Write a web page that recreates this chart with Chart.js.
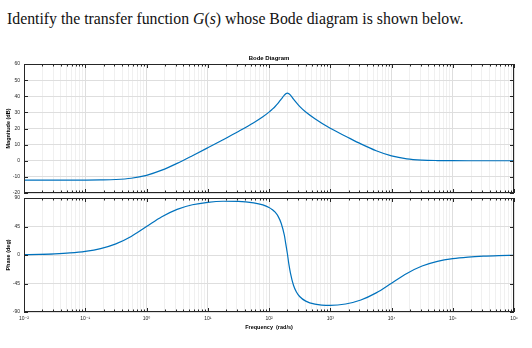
<!DOCTYPE html>
<html>
<head>
<meta charset="utf-8">
<script src="https://cdn.jsdelivr.net/npm/chart.js@4"></script>
<style>
  body { margin:0; background:#fff; width:532px; height:348px; position:relative; overflow:hidden; }
  #question { position:absolute; left:7px; top:10px; font-family:"Liberation Serif", serif; font-size:15.8px; color:#111; white-space:nowrap; }
  .box { position:absolute; left:0; width:532px; }
  #magBox { top:40px; height:160px; }
  #phaseBox { top:190px; height:158px; }
</style>
</head>
<body>
<div id="question">Identify the transfer function <i>G</i>(<i>s</i>) whose Bode diagram is shown below.</div>
<div class="box" id="magBox"><canvas id="magChart"></canvas></div>
<div class="box" id="phaseBox"><canvas id="phaseChart"></canvas></div>
<script>
// values
const freqRadS = [0.01, 0.0178, 0.0316, 0.0562, 0.1, 0.178, 0.316, 0.562, 1, 1.78, 3.16, 5.62,
  10, 17.8, 31.6, 56.2, 79.4, 100, 112, 126, 141, 158, 178, 188, 200, 211, 224, 251, 282, 316,
  398, 562, 1000, 1780, 3160, 5620, 10000, 17800, 31600, 56200, 100000, 178000, 316000, 562000, 1000000];
const magnitudeDb = [-12.04, -12.04, -12.03, -12.03, -12.0, -11.9, -11.63, -10.85, -9.03, -5.85, -1.63, 3.1,
  8.02, 13.03, 18.16, 23.61, 27.3, 30.16, 31.8, 33.65, 35.76, 38.18, 40.65, 41.56, 41.94, 41.62, 40.73, 38.28, 35.85, 33.73,
  30.23, 26.07, 20.1, 15.24, 10.44, 6.2, 3.01, 1.19, 0.41, 0.13, 0.04, 0.013, 0.004, 0.001, 0];
const phaseDeg = [0.57, 1.02, 1.81, 3.22, 5.71, 10.1, 17.55, 29.3, 44.9, 60.4, 72.1, 79.3,
  83.2, 84.83, 84.66, 82.34, 79.06, 75.07, 72.0, 67.63, 60.99, 50.12, 31.2, 17.47, 1.53, -14.49, -28.44, -47.76, -58.83, -65.51,
  -72.81, -77.63, -79.6, -77.34, -71.02, -59.84, -44.54, -29.1, -17.4, -10.0, -5.66, -3.22, -1.8, -1.02, -0.57];

const freqTickLabels = ['10⁻²', '10⁻¹', '10⁰', '10¹', '10²', '10³', '10⁴', '10⁵', '10⁶'];
const magTicks = [-20, -10, 0, 10, 20, 30, 40, 50, 60];
const phaseTicks = [-90, -45, 0, 45, 90];

const lineColor = '#0072BD';
const axisColor = '#262626';
const tickFont = { family: 'Liberation Sans, DejaVu Sans, sans-serif', size: 5 };
const labelFont = { family: 'Liberation Sans, sans-serif', size: 5.5, weight: 'bold' };

function logTicks(scale) {
  const ticks = [];
  for (let d = -2; d < 6; d++) {
    for (let k = 1; k <= 9; k++) ticks.push({ value: k * Math.pow(10, d), major: k === 1 });
  }
  ticks.push({ value: 1e6, major: true });
  scale.ticks = ticks;
}

// box round the plot, with inward tick marks on all four sides
const frameTicks = {
  id: 'frameTicks',
  afterDatasetsDraw(chart, args, opts) {
    const { ctx, chartArea: a, scales: { x, y } } = chart;
    ctx.save();
    ctx.strokeStyle = axisColor;
    ctx.lineWidth = 1;
    ctx.beginPath();
    x.ticks.forEach(t => {
      const px = Math.round(x.getPixelForValue(t.value)) + 0.5;
      const len = t.major ? 4 : 2.5;
      ctx.moveTo(px, a.top); ctx.lineTo(px, a.top + len);
      ctx.moveTo(px, a.bottom); ctx.lineTo(px, a.bottom - len);
    });
    y.ticks.forEach(t => {
      const py = Math.round(y.getPixelForValue(t.value)) + 0.5;
      ctx.moveTo(a.left, py); ctx.lineTo(a.left + 4, py);
      ctx.moveTo(a.right, py); ctx.lineTo(a.right - 4, py);
    });
    ctx.stroke();
    ctx.strokeRect(Math.round(a.left) + 0.5, Math.round(a.top) + 0.5, Math.round(a.width) - 1, Math.round(a.height) - 1);
    if (opts.title) {
      ctx.fillStyle = '#000';
      ctx.font = 'bold 6px "Liberation Sans", sans-serif';
      ctx.textAlign = 'center';
      ctx.textBaseline = 'middle';
      ctx.fillText(opts.title, (a.left + a.right) / 2, a.top - 6);
    }
    ctx.restore();
  }
};

function buildBode(canvasId, values, yTicks, yTitle, isBottom) {
  const points = freqRadS.map((f, i) => ({ x: f, y: values[i] }));
  return new Chart(document.getElementById(canvasId), {
    type: 'line',
    data: {
      datasets: [{
        data: points,
        borderColor: lineColor,
        borderWidth: 1.2,
        pointRadius: 0,
        fill: false,
        cubicInterpolationMode: 'monotone'
      }]
    },
    options: {
      responsive: true,
      maintainAspectRatio: false,
      animation: false,
      layout: { padding: isBottom ? { top: 8, right: 18, bottom: 0, left: 0 } : { top: 24, right: 18, bottom: 7, left: 0 } },
      plugins: {
        legend: { display: false },
        tooltip: { enabled: false },
        frameTicks: { title: isBottom ? '' : 'Bode Diagram' }
      },
      scales: {
        x: {
          type: 'logarithmic',
          min: 0.01,
          max: 1e6,
          afterBuildTicks: logTicks,
          afterFit: s => { s.height = isBottom ? 36 : 0; },
          border: { display: false },
          grid: {
            drawTicks: false,
            color: c => (c.tick && c.tick.major) ? '#dedede' : '#f0f0f0'
          },
          ticks: {
            display: isBottom,
            autoSkip: false,
            maxRotation: 0,
            padding: 4,
            color: axisColor,
            font: tickFont,
            callback: (v, i, ticks) => ticks[i].major ? freqTickLabels[Math.round(Math.log10(v)) + 2] : ''
          },
          title: {
            display: isBottom,
            text: 'Frequency  (rad/s)',
            color: '#000',
            font: labelFont,
            padding: { top: 0, bottom: 17.4 }
          }
        },
        y: {
          min: yTicks[0],
          max: yTicks[yTicks.length - 1],
          afterBuildTicks: s => { s.ticks = yTicks.map(v => ({ value: v })); },
          afterFit: s => { s.width = 24; },
          border: { display: false },
          grid: { drawTicks: false, color: '#dedede' },
          ticks: { padding: 4, color: axisColor, font: tickFont },
          title: {
            display: true,
            text: yTitle,
            color: '#000',
            font: labelFont,
            padding: { top: 5.4, bottom: 0 }
          }
        }
      }
    },
    plugins: [frameTicks]
  });
}

buildBode('magChart', magnitudeDb, magTicks, 'Magnitude (dB)', false);
buildBode('phaseChart', phaseDeg, phaseTicks, 'Phase (deg)', true);
</script>
</body>
</html>
